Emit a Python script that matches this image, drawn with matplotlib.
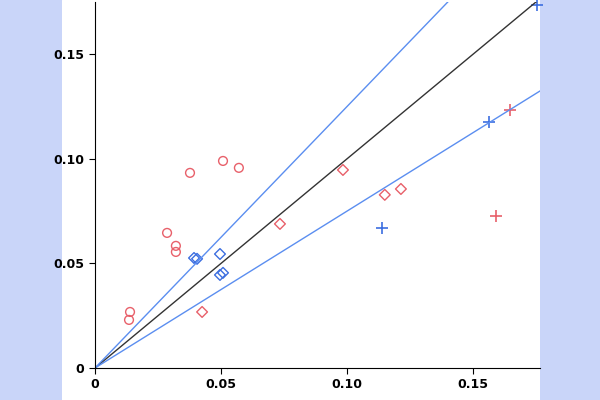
import matplotlib.pyplot as plt

circ_x = [0.0135, 0.0139, 0.0286, 0.0321, 0.0321, 0.0377, 0.0508, 0.0571]
circ_y = [0.023, 0.0268, 0.0646, 0.0584, 0.0555, 0.0933, 0.099, 0.0957]
rdia_x = [0.0425, 0.0734, 0.0984, 0.115, 0.1214]
rdia_y = [0.0268, 0.0689, 0.0947, 0.0828, 0.0856]
bdia_x = [0.0393, 0.0405, 0.0496, 0.0496, 0.0508]
bdia_y = [0.0526, 0.0522, 0.0545, 0.0445, 0.0455]
rplus_x = [0.1647, 0.1591]
rplus_y = [0.1234, 0.0727]
bplus_x = [0.1139, 0.1563, 0.1754]
bplus_y = [0.067, 0.1177, 0.1737]
slopes = [1.25, 0.75]

red = "#e8606a"
blue = "#3c6ee0"

fig = plt.figure(figsize=(6, 4), dpi=100, facecolor="#c9d5f9")
bg = fig.add_axes([62 / 600, 0, (540 - 62) / 600, 1], zorder=-1)
bg.set_facecolor("white")
bg.axis("off")
bg.add_patch(plt.Rectangle((0, 0), 1, 1, transform=bg.transAxes, color="white"))

ax = fig.add_axes([95 / 600, 32 / 400, 445 / 600, 366 / 400])
ax.set_xlim(0, 0.1766)
ax.set_ylim(0, 0.175)

ax.plot([0, 0.2], [0, 0.2], color="#333333", lw=1)
for s in slopes:
    ax.plot([0, 0.2], [0, 0.2 * s], color="#5b8ef0", lw=1)

ax.scatter(circ_x, circ_y, marker="o", facecolors="none", edgecolors=red, s=40, lw=1)
ax.scatter(rdia_x, rdia_y, marker="D", facecolors="none", edgecolors=red, s=30, lw=1)
ax.scatter(bdia_x, bdia_y, marker="D", facecolors="none", edgecolors=blue, s=30, lw=1)
ax.scatter(rplus_x, rplus_y, marker="+", color=red, s=70, lw=1.2)
ax.scatter(bplus_x, bplus_y, marker="+", color=blue, s=70, lw=1.2, clip_on=False)

ax.set_xticks([0, 0.05, 0.10, 0.15])
ax.set_xticklabels(["0", "0.05", "0.10", "0.15"])
ax.set_yticks([0, 0.05, 0.10, 0.15])
ax.set_yticklabels(["0", "0.05", "0.10", "0.15"])
ax.tick_params(labelsize=9, length=4)
for lab in ax.get_xticklabels() + ax.get_yticklabels():
    lab.set_fontweight("bold")
ax.spines["top"].set_visible(False)
ax.spines["right"].set_visible(False)

fig.savefig("out.png", facecolor=fig.get_facecolor())
